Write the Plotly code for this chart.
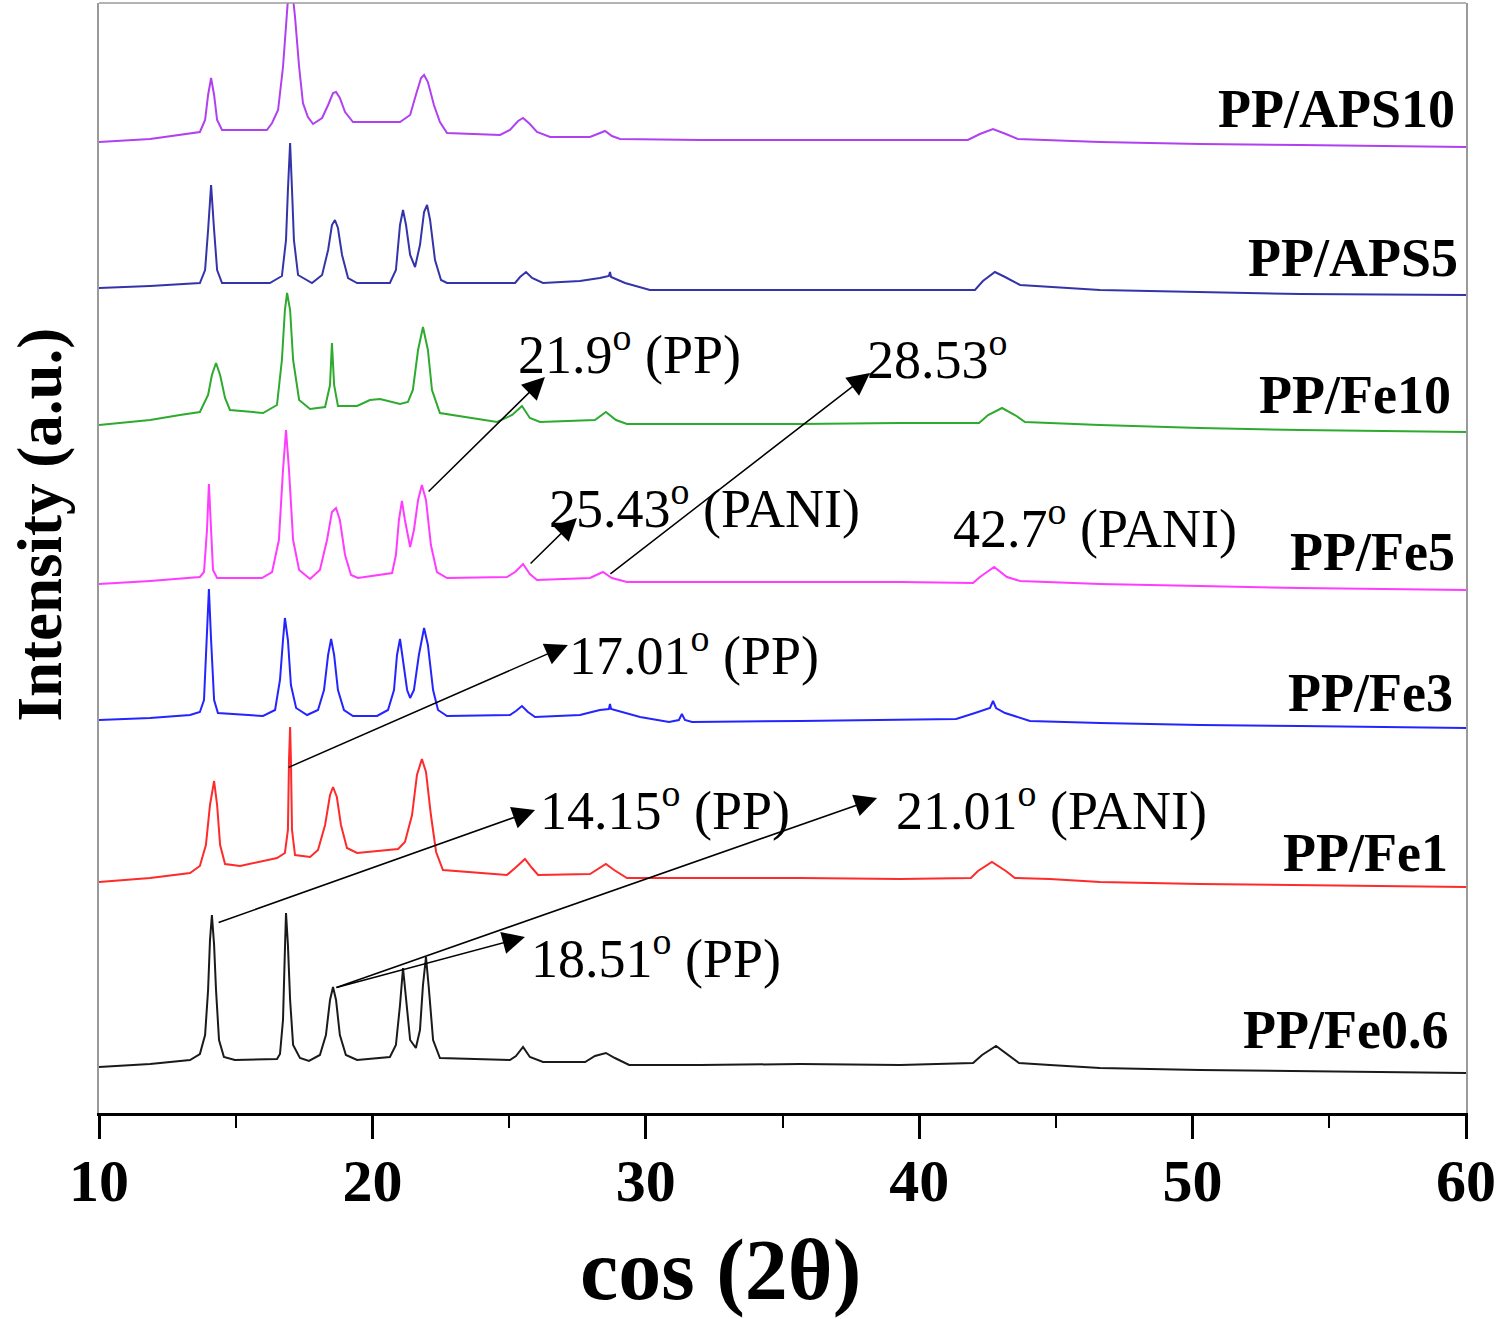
import plotly.graph_objects as go

# ---------------- data (2theta in degrees, intensity in a.u., stacked) ----------------
fe06_x = [10.00, 11.87, 13.33, 13.69, 13.88, 13.99, 14.06, 14.13, 14.21, 14.28, 14.39, 14.57, 14.97,
          16.51, 16.62, 16.73, 16.80, 16.84, 16.91, 16.99, 17.10, 17.35, 17.68, 18.08, 18.30, 18.45,
          18.56, 18.67, 18.81, 19.03, 19.44, 20.64, 20.86, 21.01, 21.12, 21.23, 21.38, 21.59, 21.74,
          21.85, 21.96, 22.07, 22.22, 22.47, 25.03, 25.25, 25.51, 25.76, 26.24, 27.78, 28.14, 28.54,
          28.87, 29.39, 31.99, 35.64, 39.30, 41.97, 42.30, 42.81, 43.32, 43.65, 44.78, 46.61, 50.27,
          53.93, 60.00]
fe06_y = [46, 49, 53, 59, 78, 123, 173, 198, 168, 123, 73, 56, 53,
          54, 59, 93, 163, 200, 168, 113, 68, 55, 52, 58, 78, 113,
          126, 113, 78, 58, 53, 56, 68, 108, 145, 113, 73, 65, 83,
          128, 156, 123, 73, 55, 53, 57, 66, 56, 51, 51, 57, 60,
          55, 48, 48, 49, 48, 50, 58, 67, 57, 50, 48, 45, 43,
          42, 40]

fe1_x = [10.00, 11.87, 13.33, 13.69, 13.91, 14.06, 14.21, 14.32, 14.43, 14.61, 15.16, 16.51, 16.80,
         16.91, 16.95, 16.99, 17.02, 17.06, 17.17, 17.72, 18.01, 18.27, 18.45, 18.56, 18.70, 18.85,
         19.07, 19.44, 20.94, 21.19, 21.45, 21.63, 21.81, 21.96, 22.14, 22.33, 22.58, 24.92, 25.22,
         25.58, 25.84, 26.06, 27.96, 28.25, 28.54, 28.84, 29.31, 31.98, 35.64, 39.30, 41.89, 42.15,
         42.66, 43.17, 43.50, 44.78, 46.61, 50.27, 53.93, 60.00]
fe1_y = [231, 235, 240, 247, 268, 308, 332, 308, 268, 249, 247, 255, 260,
         283, 353, 386, 353, 283, 258, 256, 263, 288, 318, 326, 316, 288,
         265, 260, 264, 271, 298, 338, 354, 341, 298, 261, 243, 238, 245,
         254, 245, 238, 239, 244, 249, 243, 235, 235, 235, 234, 235, 242,
         251, 242, 235, 234, 231, 229, 228, 226]

fe3_x = [10.00, 11.87, 13.33, 13.69, 13.84, 13.95, 14.02, 14.10, 14.21, 14.35, 16.00, 16.44, 16.62,
         16.73, 16.80, 16.91, 17.02, 17.21, 17.61, 18.01, 18.23, 18.38, 18.49, 18.60, 18.74, 18.96,
         19.29, 20.17, 20.57, 20.79, 20.90, 21.01, 21.12, 21.27, 21.38, 21.52, 21.70, 21.89, 22.03,
         22.22, 22.40, 22.73, 25.03, 25.25, 25.47, 25.69, 25.95, 27.59, 28.32, 28.65, 28.69, 28.73,
         29.79, 30.85, 31.21, 31.32, 31.43, 31.69, 35.64, 39.30, 41.35, 42.04, 42.59, 42.70, 42.81,
         43.14, 44.05, 46.61, 50.27, 53.93, 60.00]
fe3_y = [393, 395, 398, 401, 413, 473, 524, 473, 413, 400, 397, 403, 433,
         473, 495, 473, 428, 405, 398, 403, 423, 458, 474, 458, 423, 403,
         397, 397, 403, 423, 458, 474, 453, 423, 415, 423, 458, 485, 468,
         423, 403, 397, 398, 402, 407, 401, 396, 398, 403, 404, 409, 404,
         396, 391, 393, 399, 393, 391, 392, 393, 394, 400, 405, 412, 405,
         400, 392, 390, 388, 387, 385]

fe5_x = [10.00, 11.87, 13.69, 13.84, 13.95, 14.02, 14.10, 14.17, 14.32, 15.96, 16.33, 16.58, 16.73,
         16.84, 16.95, 17.10, 17.32, 17.72, 18.08, 18.34, 18.52, 18.67, 18.81, 19.00, 19.22, 19.47,
         20.72, 20.86, 20.97, 21.08, 21.19, 21.38, 21.52, 21.67, 21.81, 21.96, 22.14, 22.36, 22.73,
         24.92, 25.22, 25.51, 25.76, 26.02, 27.96, 28.21, 28.43, 28.76, 29.31, 31.98, 35.64, 39.30,
         41.97, 42.22, 42.74, 43.21, 43.69, 46.61, 50.27, 53.93, 60.00]
fe5_y = [529, 532, 536, 541, 583, 629, 583, 543, 535, 535, 541, 573, 643,
         683, 643, 573, 543, 534, 543, 573, 601, 605, 593, 558, 538, 535,
         540, 558, 593, 612, 593, 566, 583, 613, 628, 613, 568, 541, 535,
         536, 541, 549, 539, 533, 535, 538, 541, 535, 531, 531, 531, 531,
         530, 536, 546, 536, 532, 529, 527, 525, 523]

fe10_x = [10.00, 11.87, 12.96, 13.69, 13.99, 14.13, 14.28, 14.43, 14.61, 14.79, 16.00, 16.51, 16.69,
          16.80, 16.88, 16.99, 17.10, 17.32, 17.72, 18.27, 18.45, 18.52, 18.60, 18.74, 19.44, 19.91,
          20.28, 21.01, 21.30, 21.48, 21.67, 21.85, 22.03, 22.18, 22.47, 24.56, 25.11, 25.47, 25.76,
          26.13, 28.14, 28.54, 28.91, 29.31, 31.98, 35.64, 39.30, 42.19, 42.52, 43.03, 43.50, 43.87,
          46.61, 50.27, 53.93, 60.00]
fe10_y = [688, 693, 698, 701, 718, 738, 750, 738, 715, 703, 700, 708, 753,
          803, 820, 803, 753, 713, 704, 706, 728, 770, 728, 707, 707, 713,
          714, 709, 711, 723, 763, 786, 763, 723, 700, 691, 698, 707, 695,
          691, 693, 701, 693, 689, 689, 689, 690, 690, 698, 705, 698, 691,
          688, 685, 683, 681]

aps5_x = [10.00, 11.87, 13.69, 13.88, 13.99, 14.10, 14.21, 14.32, 14.50, 16.25, 16.69, 16.84, 16.91,
          16.99, 17.06, 17.13, 17.28, 17.79, 18.16, 18.38, 18.52, 18.63, 18.74, 18.89, 19.11, 19.44,
          20.64, 20.86, 21.01, 21.12, 21.23, 21.38, 21.56, 21.74, 21.89, 22.00, 22.11, 22.29, 22.51,
          22.73, 25.22, 25.40, 25.62, 25.84, 26.24, 27.59, 28.32, 28.65, 28.69, 28.73, 29.24, 30.15,
          35.64, 39.30, 42.04, 42.33, 42.77, 43.14, 43.69, 46.61, 50.27, 53.93, 60.00]
aps5_y = [825, 827, 830, 843, 883, 928, 883, 843, 830, 830, 837, 873, 923,
          970, 923, 873, 838, 830, 838, 863, 888, 893, 885, 858, 835, 830,
          830, 843, 888, 903, 888, 858, 846, 868, 901, 908, 893, 853, 833,
          830, 830, 836, 841, 835, 830, 832, 835, 837, 841, 836, 830, 823,
          823, 823, 823, 832, 841, 836, 828, 823, 821, 819, 818]

aps10_x = [10.00, 11.87, 13.69, 13.88, 13.99, 14.10, 14.21, 14.32, 14.50, 16.14, 16.33, 16.55, 16.73,
           16.88, 16.99, 17.17, 17.32, 17.46, 17.64, 17.83, 18.16, 18.38, 18.56, 18.67, 18.81, 19.00,
           19.29, 21.01, 21.38, 21.59, 21.78, 21.89, 22.03, 22.25, 22.47, 22.73, 24.67, 25.03, 25.33,
           25.51, 25.76, 26.02, 26.50, 27.96, 28.25, 28.51, 28.76, 29.06, 31.98, 35.64, 39.30, 41.78,
           42.22, 42.70, 43.17, 43.61, 46.61, 50.27, 53.93, 60.00]
aps10_y = [971, 974, 981, 993, 1018, 1035, 1018, 993, 983, 983, 990, 1003, 1046,
           1096, 1143, 1096, 1046, 1010, 996, 989, 995, 1008, 1020, 1021, 1015, 1001,
           991, 991, 998, 1018, 1035, 1038, 1031, 1008, 991, 980, 978, 983, 992,
           995, 989, 981, 976, 976, 979, 982, 977, 974, 973, 973, 973, 973,
           979, 984, 979, 974, 971, 969, 968, 966]

series_names = ["PP/Fe0.6", "PP/Fe1", "PP/Fe3", "PP/Fe5", "PP/Fe10", "PP/APS5", "PP/APS10"]
series_x = [fe06_x, fe1_x, fe3_x, fe5_x, fe10_x, aps5_x, aps10_x]
series_y = [fe06_y, fe1_y, fe3_y, fe5_y, fe10_y, aps5_y, aps10_y]
series_colors = ["#1a1a1a", "#ff2a2a", "#2424ff", "#ff3cff", "#2eaa2e", "#3434a8", "#b040f0"]

# curve labels: x right edge, y centre
label_x = [59.41, 59.41, 59.60, 59.67, 59.52, 59.78, 59.67]
label_y = [83, 260, 420, 561, 718, 855, 1004]

# peak annotations: text, x left, y centre
peak_texts = ["21.9<sup>o</sup> (PP)", "28.53<sup>o</sup>", "25.43<sup>o</sup> (PANI)",
              "42.7<sup>o</sup> (PANI)", "17.01<sup>o</sup> (PP)", "14.15<sup>o</sup> (PP)",
              "21.01<sup>o</sup> (PANI)", "18.51<sup>o</sup> (PP)"]
peak_text_x = [25.25, 38.00, 26.40, 41.18, 27.13, 26.04, 39.09, 25.74]
peak_text_y = [763, 758, 609, 589, 462, 307, 307, 159]

# arrows: tail (ax, ay) -> tip (x, y)
arrow_tail_x = [22.00, 28.65, 25.73, 16.88, 14.32, 18.63, 18.63]
arrow_tail_y = [620, 538, 548, 345, 190, 125, 125]
arrow_tip_x = [26.31, 38.20, 27.48, 27.15, 25.95, 38.46, 25.58]
arrow_tip_y = [736, 740, 595, 468, 303, 315, 176]

x_ticks = [10, 20, 30, 40, 50, 60]

SERIF = "Liberation Serif"

fig = go.Figure()
for name, xs, ys, col in zip(series_names, series_x, series_y, series_colors):
    fig.add_trace(go.Scatter(x=xs, y=ys, mode="lines", name=name,
                             line=dict(color=col, width=2), showlegend=False))

annotations = []
for t, lx, ly in zip(series_names, label_x, label_y):
    annotations.append(dict(x=lx, y=ly, xref="x", yref="y", text="<b>%s</b>" % t,
                            showarrow=False, xanchor="right", yanchor="middle",
                            font=dict(family=SERIF, size=54, color="black")))
for t, tx, ty in zip(peak_texts, peak_text_x, peak_text_y):
    annotations.append(dict(x=tx, y=ty, xref="x", yref="y", text=t, showarrow=False,
                            xanchor="left", yanchor="middle",
                            font=dict(family=SERIF, size=54, color="black")))
for ax_, ay_, x_, y_ in zip(arrow_tail_x, arrow_tail_y, arrow_tip_x, arrow_tip_y):
    annotations.append(dict(x=x_, y=y_, ax=ax_, ay=ay_, xref="x", yref="y",
                            axref="x", ayref="y", text="", showarrow=True,
                            arrowhead=2, arrowsize=3, arrowwidth=1.5,
                            arrowcolor="black", standoff=0, startstandoff=0))
# axis titles
annotations.append(dict(x=0.455, y=-0.141, xref="paper", yref="paper",
                        text="<b>cos (2θ)</b>", showarrow=False,
                        xanchor="center", yanchor="middle",
                        font=dict(family=SERIF, size=86, color="black")))
annotations.append(dict(x=-0.0435, y=0.5297, xref="paper", yref="paper",
                        text="<b>Intensity (a.u.)</b>", showarrow=False, textangle=-90,
                        xanchor="center", yanchor="middle",
                        font=dict(family=SERIF, size=63, color="black")))

fig.update_layout(
    width=1500, height=1319,
    margin=dict(l=99, r=34, t=3, b=206),
    paper_bgcolor="white", plot_bgcolor="white",
    annotations=annotations,
    shapes=[dict(type="line", xref="paper", yref="paper", x0=0, x1=1, y0=1, y1=1,
                 line=dict(color="#9a9a9a", width=1.5))],
)
fig.update_xaxes(range=[10, 60], tickvals=x_ticks, ticks="outside", ticklen=23,
                 tickwidth=2.5, tickcolor="black", showline=True, linecolor="black",
                 linewidth=3, showgrid=False, zeroline=False, ticklabelstandoff=-10,
                 tickfont=dict(family=SERIF, size=60, color="black", weight="bold"),
                 minor=dict(ticks="outside", ticklen=12, tickwidth=2, tickcolor="black",
                            dtick=5, showgrid=False))
fig.update_yaxes(range=[0, 1110], showticklabels=False, ticks="", showline=True,
                 linecolor="#9a9a9a", linewidth=1.5, mirror=True, showgrid=False,
                 zeroline=False)

fig.write_html("out.html")
